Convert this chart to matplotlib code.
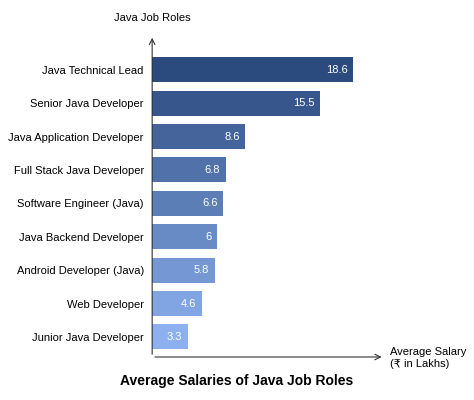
import matplotlib
matplotlib.use("Agg")
import matplotlib.pyplot as plt
from matplotlib.colors import LinearSegmentedColormap
import numpy as np

plt.rcParams['font.family'] = ['Liberation Sans', 'DejaVu Sans']

roles = ["Java Technical Lead", "Senior Java Developer", "Java Application Developer",
         "Full Stack Java Developer", "Software Engineer (Java)", "Java Backend Developer",
         "Android Developer (Java)", "Web Developer", "Junior Java Developer"]
salaries = [18.6, 15.5, 8.6, 6.8, 6.6, 6, 5.8, 4.6, 3.3]

cmap = LinearSegmentedColormap.from_list("blues", ["#2b4a7e", "#8db1f0"])
colors = [cmap(i / (len(roles) - 1)) for i in range(len(roles))]

fig = plt.figure(figsize=(4.74, 4.0), dpi=100)
ax = fig.add_axes([0.321, 0.1075, 0.49, 0.805])

ypos = np.arange(len(roles))[::-1]
bars = ax.barh(ypos, salaries, height=0.75, color=colors)
for y, v in zip(ypos, salaries):
    ax.text(v - 0.5, y, f"{v:g}", ha="right", va="center", color="white", fontsize=8)

ax.set_yticks(ypos)
ax.set_yticklabels(roles, fontsize=8)
ax.set_xticks([])
ax.tick_params(axis="y", length=0, pad=6)
ax.set_xlim(0, 21.5)
ax.set_ylim(-0.6, 9.04)
for s in ax.spines.values():
    s.set_visible(False)

ax.annotate("", xy=(0, 1), xytext=(0, 0), xycoords="axes fraction",
            arrowprops=dict(arrowstyle="->", color="#333333", lw=0.8))
ax.annotate("", xy=(1, 0), xytext=(0, 0), xycoords="axes fraction",
            arrowprops=dict(arrowstyle="->", color="#333333", lw=0.8))

fig.text(0.321, 0.955, "Java Job Roles", ha="center", va="center", fontsize=8)
fig.text(0.822, 0.105, "Average Salary\n(₹ in Lakhs)", ha="left", va="center", fontsize=8,
         linespacing=1.2)
fig.text(0.5, 0.047, "Average Salaries of Java Job Roles", ha="center", va="center",
         fontsize=10, fontweight="bold")

fig.savefig("out.png", dpi=100)
